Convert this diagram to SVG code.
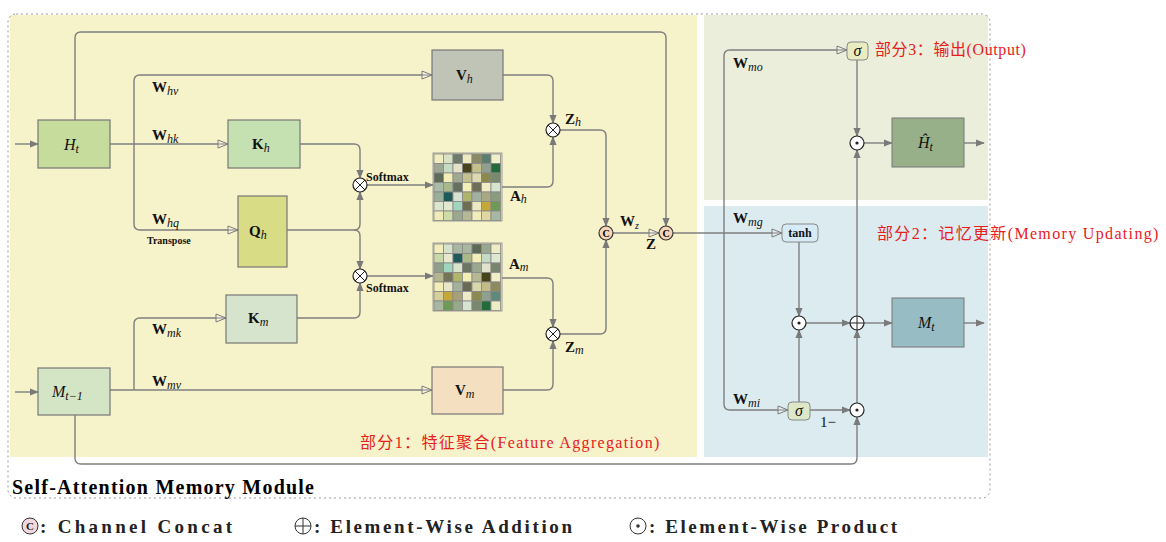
<svg xmlns="http://www.w3.org/2000/svg" width="1166" height="542" viewBox="0 0 1166 542">
<defs>
<marker id="a" viewBox="0 0 10 10" refX="9" refY="5" markerWidth="9" markerHeight="9" orient="auto" markerUnits="userSpaceOnUse"><path d="M0,1 L10,5 L0,9 z" fill="#7a7a7a"/></marker>
<marker id="o" viewBox="0 0 12 10" refX="11" refY="5" markerWidth="12" markerHeight="10" orient="auto" markerUnits="userSpaceOnUse"><path d="M1,1 L11,5 L1,9 z" fill="#fff" fill-opacity="0.3" stroke="#7a7a7a" stroke-width="1"/></marker>
<style>
.l{fill:none;stroke:#7f7f7f;stroke-width:1.4}
.b{stroke:#777;stroke-width:1.2}
.t{font-family:"Liberation Serif",serif;font-size:16px;fill:#111}
.w{font-family:"Liberation Serif",serif;font-size:15px;font-weight:bold;fill:#111}
.s{font-family:"Liberation Serif",serif;font-size:12px;font-style:italic;font-weight:normal}
.r{font-family:"Liberation Serif","Noto Sans CJK SC",serif;font-size:16px;fill:#e8201c;letter-spacing:0.6px}
.op{fill:#fff;stroke:#222;stroke-width:1.2}
</style>
</defs>
<rect x="10" y="15" width="687" height="442" fill="#f6f2c9"/>
<rect x="704" y="15" width="284" height="185" fill="#eaeedb"/>
<rect x="704" y="206" width="284" height="251" fill="#dbebf0"/>
<rect x="8" y="14" width="982" height="484" rx="8" fill="none" stroke="#999" stroke-dasharray="2,3"/>
<g id="connectors">
<path class="l" d="M15,144 H38" marker-end="url(#a)"/>
<path class="l" d="M15,392 H38" marker-end="url(#a)"/>
<path class="l" d="M75,120 V38 Q75,32 81,32 H660 Q666,32 666,38 V226" marker-end="url(#a)"/>
<path class="l" d="M75,415 V458 Q75,464 81,464 H851 Q857,464 857,458 V417" marker-end="url(#a)"/>
<path class="l" d="M110,144 H228" marker-end="url(#o)"/>
<path class="l" d="M134,144 V81 Q134,75 140,75 H432" marker-end="url(#o)"/>
<path class="l" d="M134,144 V224 Q134,230 140,230 H238" marker-end="url(#o)"/>
<path class="l" d="M110,390 H432" marker-end="url(#o)"/>
<path class="l" d="M134,390 V324 Q134,318 140,318 H226" marker-end="url(#o)"/>
<path class="l" d="M300,144 H354 Q360,144 360,150 V178" marker-end="url(#a)"/>
<path class="l" d="M287,230 H354 Q360,230 360,224 V192" marker-end="url(#a)"/>
<path class="l" d="M354,230 Q360,230 360,236 V269" marker-end="url(#a)"/>
<path class="l" d="M297,318 H354 Q360,318 360,312 V283" marker-end="url(#a)"/>
<path class="l" d="M367,185 H433" marker-end="url(#a)"/>
<path class="l" d="M367,276 H433" marker-end="url(#a)"/>
<path class="l" d="M503,75 H547 Q553,75 553,81 V123" marker-end="url(#a)"/>
<path class="l" d="M502,187 H547 Q553,187 553,181 V137" marker-end="url(#a)"/>
<path class="l" d="M502,278 H547 Q553,278 553,284 V327" marker-end="url(#a)"/>
<path class="l" d="M503,390 H547 Q553,390 553,384 V341" marker-end="url(#a)"/>
<path class="l" d="M560,130 H600 Q606,130 606,136 V226" marker-end="url(#a)"/>
<path class="l" d="M560,334 H600 Q606,334 606,328 V240" marker-end="url(#a)"/>
<path class="l" d="M613,233 H659" marker-end="url(#o)"/>
<path class="l" d="M673,233 H724"/>
<path class="l" d="M724,233 V56 Q724,50 730,50 H847" marker-end="url(#o)"/>
<path class="l" d="M724,233 H782" marker-end="url(#o)"/>
<path class="l" d="M724,233 V404 Q724,410 730,410 H788" marker-end="url(#o)"/>
<path class="l" d="M857,60 V136" marker-end="url(#a)"/>
<path class="l" d="M864,143 H892" marker-end="url(#a)"/>
<path class="l" d="M964,143 H984" marker-end="url(#a)"/>
<path class="l" d="M799,242 V316" marker-end="url(#a)"/>
<path class="l" d="M806,323 H850" marker-end="url(#a)"/>
<path class="l" d="M864,323 H892" marker-end="url(#a)"/>
<path class="l" d="M964,323 H984" marker-end="url(#a)"/>
<path class="l" d="M799,402 V330" marker-end="url(#a)"/>
<path class="l" d="M810,410 H850" marker-end="url(#a)"/>
<path class="l" d="M857,403 V330" marker-end="url(#a)"/>
<path class="l" d="M857,316 V150" marker-end="url(#a)"/>
</g>
<g id="labels">
<text class="w" x="152" y="92">W<tspan class="s" dy="3">hv</tspan></text>
<text class="w" x="152" y="140">W<tspan class="s" dy="3">hk</tspan></text>
<text class="w" x="152" y="224">W<tspan class="s" dy="3">hq</tspan></text>
<text class="w" x="147" y="244" style="font-size:10px">Transpose</text>
<text class="w" x="152" y="334">W<tspan class="s" dy="3">mk</tspan></text>
<text class="w" x="152" y="386">W<tspan class="s" dy="3">mv</tspan></text>
<text class="w" x="366" y="181" style="font-size:12px">Softmax</text>
<text class="w" x="366" y="292" style="font-size:12px">Softmax</text>
<text class="w" x="510" y="201">A<tspan class="s" dy="2">h</tspan></text>
<text class="w" x="509" y="269">A<tspan class="s" dy="2">m</tspan></text>
<text class="w" x="565" y="124">Z<tspan class="s" dy="2">h</tspan></text>
<text class="w" x="565" y="352">Z<tspan class="s" dy="2">m</tspan></text>
<text class="w" x="620" y="226">W<tspan class="s" dy="3" style="font-size:10px">z</tspan></text>
<text class="w" x="646" y="249">Z</text>
<text class="w" x="733" y="68">W<tspan class="s" dy="3">mo</tspan></text>
<text class="w" x="733" y="223">W<tspan class="s" dy="3">mg</tspan></text>
<text class="w" x="733" y="404">W<tspan class="s" dy="3">mi</tspan></text>
<text class="w" x="820" y="427" style="font-weight:normal">1−</text>
<text class="r" x="875" y="55">部分3：输出(Output)</text>
<text class="r" x="877" y="239" textLength="282">部分2：记忆更新(Memory Updating)</text>
<text class="r" x="360" y="448" textLength="300">部分1：特征聚合(Feature Aggregation)</text>
<text x="12" y="494" textLength="302" style="font-family:'Liberation Serif',serif;font-size:20px;font-weight:bold">Self-Attention Memory Module</text>
</g>
<g id="Ht"><rect class="b" x="38" y="120" width="72" height="48" fill="#c6dc9c"/><text class="t" x="64" y="150" font-style="italic">H<tspan class="s" dy="3">t</tspan></text></g>
<g id="Mt1"><rect class="b" x="38" y="368" width="72" height="47" fill="#d4e5c5"/><text class="t" x="52" y="397" font-style="italic">M<tspan class="s" dy="3">t−1</tspan></text></g>
<g id="Vh"><rect class="b" x="432" y="50" width="71" height="50" fill="#c0c4b6"/><text class="w" x="456" y="80">V<tspan class="s" dy="3">h</tspan></text></g>
<g id="Kh"><rect class="b" x="228" y="120" width="72" height="48" fill="#c6e1b1"/><text class="w" x="252" y="149">K<tspan class="s" dy="3">h</tspan></text></g>
<g id="Qh"><rect class="b" x="238" y="196" width="49" height="71" fill="#d7dc85"/><text class="w" x="249" y="236">Q<tspan class="s" dy="3">h</tspan></text></g>
<g id="Km"><rect class="b" x="226" y="295" width="71" height="48" fill="#d6e3cd"/><text class="w" x="248" y="323">K<tspan class="s" dy="3">m</tspan></text></g>
<g id="Vm"><rect class="b" x="432" y="367" width="71" height="47" fill="#f5dfc1"/><text class="w" x="455" y="395">V<tspan class="s" dy="3">m</tspan></text></g>
<g id="Ah" stroke="#888" stroke-width="0.8">
<rect x="433" y="153" width="69" height="68" fill="#ede9c2"/>
<g transform="translate(434,154)">
<rect x="0" y="0" width="9.5" height="9.5" fill="#f1edc0"/><rect x="9.5" y="0" width="9.5" height="9.5" fill="#d8e2c5"/><rect x="19" y="0" width="9.5" height="9.5" fill="#6f7b6a"/><rect x="28.5" y="0" width="9.5" height="9.5" fill="#eeeac0"/><rect x="38" y="0" width="9.5" height="9.5" fill="#8a8a66"/><rect x="47.5" y="0" width="9.5" height="9.5" fill="#5d7d6e"/><rect x="57" y="0" width="9.5" height="9.5" fill="#eef0cc"/>
<rect x="0" y="9.5" width="9.5" height="9.5" fill="#9ea794"/><rect x="9.5" y="9.5" width="9.5" height="9.5" fill="#c6dcc2"/><rect x="19" y="9.5" width="9.5" height="9.5" fill="#e4e2c8"/><rect x="28.5" y="9.5" width="9.5" height="9.5" fill="#47431a"/><rect x="38" y="9.5" width="9.5" height="9.5" fill="#c5bf8c"/><rect x="47.5" y="9.5" width="9.5" height="9.5" fill="#8fa08e"/><rect x="57" y="9.5" width="9.5" height="9.5" fill="#236b3a"/>
<rect x="0" y="19" width="9.5" height="9.5" fill="#5e6a5a"/><rect x="9.5" y="19" width="9.5" height="9.5" fill="#f3eeb4"/><rect x="19" y="19" width="9.5" height="9.5" fill="#9fa98f"/><rect x="28.5" y="19" width="9.5" height="9.5" fill="#c2c18f"/><rect x="38" y="19" width="9.5" height="9.5" fill="#dcd8b0"/><rect x="47.5" y="19" width="9.5" height="9.5" fill="#8a8a4e"/><rect x="57" y="19" width="9.5" height="9.5" fill="#788a6c"/>
<rect x="0" y="28.5" width="9.5" height="9.5" fill="#a9bba7"/><rect x="9.5" y="28.5" width="9.5" height="9.5" fill="#a7b98a"/><rect x="19" y="28.5" width="9.5" height="9.5" fill="#66705f"/><rect x="28.5" y="28.5" width="9.5" height="9.5" fill="#f4efb8"/><rect x="38" y="28.5" width="9.5" height="9.5" fill="#6f6e58"/><rect x="47.5" y="28.5" width="9.5" height="9.5" fill="#f0ecc4"/><rect x="57" y="28.5" width="9.5" height="9.5" fill="#d5e3cf"/>
<rect x="0" y="38" width="9.5" height="9.5" fill="#9bae98"/><rect x="9.5" y="38" width="9.5" height="9.5" fill="#1e5a58"/><rect x="19" y="38" width="9.5" height="9.5" fill="#d4e2cf"/><rect x="28.5" y="38" width="9.5" height="9.5" fill="#b0b46a"/><rect x="38" y="38" width="9.5" height="9.5" fill="#a2b0a0"/><rect x="47.5" y="38" width="9.5" height="9.5" fill="#a8a884"/><rect x="57" y="38" width="9.5" height="9.5" fill="#8a9c7e"/>
<rect x="0" y="47.5" width="9.5" height="9.5" fill="#dbe6cf"/><rect x="9.5" y="47.5" width="9.5" height="9.5" fill="#e3e8d0"/><rect x="19" y="47.5" width="9.5" height="9.5" fill="#9fd4bd"/><rect x="28.5" y="47.5" width="9.5" height="9.5" fill="#6e6e52"/><rect x="38" y="47.5" width="9.5" height="9.5" fill="#ebe8c2"/><rect x="47.5" y="47.5" width="9.5" height="9.5" fill="#c4a93a"/><rect x="57" y="47.5" width="9.5" height="9.5" fill="#6e9a55"/>
<rect x="0" y="57" width="9.5" height="9.5" fill="#f0ecb8"/><rect x="9.5" y="57" width="9.5" height="9.5" fill="#d0dca8"/><rect x="19" y="57" width="9.5" height="9.5" fill="#9aa890"/><rect x="28.5" y="57" width="9.5" height="9.5" fill="#b4b896"/><rect x="38" y="57" width="9.5" height="9.5" fill="#f0ecbc"/><rect x="47.5" y="57" width="9.5" height="9.5" fill="#e0d6a0"/><rect x="57" y="57" width="9.5" height="9.5" fill="#a6b8a4"/>
</g></g>
<g id="Am" stroke="#888" stroke-width="0.8">
<rect x="433" y="243" width="69" height="68" fill="#ede9c2"/>
<g transform="translate(434,244)">
<rect x="0" y="0" width="9.5" height="9.5" fill="#f2eebc"/><rect x="9.5" y="0" width="9.5" height="9.5" fill="#d6e2cc"/><rect x="19" y="0" width="9.5" height="9.5" fill="#a8b6a2"/><rect x="28.5" y="0" width="9.5" height="9.5" fill="#a8b6a2"/><rect x="38" y="0" width="9.5" height="9.5" fill="#5e6a58"/><rect x="47.5" y="0" width="9.5" height="9.5" fill="#9aa890"/><rect x="57" y="0" width="9.5" height="9.5" fill="#eeecc4"/>
<rect x="0" y="9.5" width="9.5" height="9.5" fill="#c8d8a8"/><rect x="9.5" y="9.5" width="9.5" height="9.5" fill="#e6e8d0"/><rect x="19" y="9.5" width="9.5" height="9.5" fill="#1e5a58"/><rect x="28.5" y="9.5" width="9.5" height="9.5" fill="#a9ba88"/><rect x="38" y="9.5" width="9.5" height="9.5" fill="#f3eeb8"/><rect x="47.5" y="9.5" width="9.5" height="9.5" fill="#c4dcc6"/><rect x="57" y="9.5" width="9.5" height="9.5" fill="#dce8d0"/>
<rect x="0" y="19" width="9.5" height="9.5" fill="#8ea08c"/><rect x="9.5" y="19" width="9.5" height="9.5" fill="#9fd4bd"/><rect x="19" y="19" width="9.5" height="9.5" fill="#d8e4cc"/><rect x="28.5" y="19" width="9.5" height="9.5" fill="#6a7664"/><rect x="38" y="19" width="9.5" height="9.5" fill="#9aa890"/><rect x="47.5" y="19" width="9.5" height="9.5" fill="#e0e2cc"/><rect x="57" y="19" width="9.5" height="9.5" fill="#788470"/>
<rect x="0" y="28.5" width="9.5" height="9.5" fill="#b2b58e"/><rect x="9.5" y="28.5" width="9.5" height="9.5" fill="#747456"/><rect x="19" y="28.5" width="9.5" height="9.5" fill="#b2b66a"/><rect x="28.5" y="28.5" width="9.5" height="9.5" fill="#f3eeb4"/><rect x="38" y="28.5" width="9.5" height="9.5" fill="#b6b894"/><rect x="47.5" y="28.5" width="9.5" height="9.5" fill="#47431a"/><rect x="57" y="28.5" width="9.5" height="9.5" fill="#f0eec4"/>
<rect x="0" y="38" width="9.5" height="9.5" fill="#f3eeb8"/><rect x="9.5" y="38" width="9.5" height="9.5" fill="#e8e6c8"/><rect x="19" y="38" width="9.5" height="9.5" fill="#a4b29c"/><rect x="28.5" y="38" width="9.5" height="9.5" fill="#6a6a54"/><rect x="38" y="38" width="9.5" height="9.5" fill="#d8d6ac"/><rect x="47.5" y="38" width="9.5" height="9.5" fill="#c4bc88"/><rect x="57" y="38" width="9.5" height="9.5" fill="#8e8a60"/>
<rect x="0" y="47.5" width="9.5" height="9.5" fill="#d8d09a"/><rect x="9.5" y="47.5" width="9.5" height="9.5" fill="#c4a93a"/><rect x="19" y="47.5" width="9.5" height="9.5" fill="#a8a07a"/><rect x="28.5" y="47.5" width="9.5" height="9.5" fill="#eeecc8"/><rect x="38" y="47.5" width="9.5" height="9.5" fill="#8a8a50"/><rect x="47.5" y="47.5" width="9.5" height="9.5" fill="#8ea090"/><rect x="57" y="47.5" width="9.5" height="9.5" fill="#5e8a7c"/>
<rect x="0" y="57" width="9.5" height="9.5" fill="#a8b6a2"/><rect x="9.5" y="57" width="9.5" height="9.5" fill="#6e9a55"/><rect x="19" y="57" width="9.5" height="9.5" fill="#98a88a"/><rect x="28.5" y="57" width="9.5" height="9.5" fill="#d6e4d2"/><rect x="38" y="57" width="9.5" height="9.5" fill="#78886c"/><rect x="47.5" y="57" width="9.5" height="9.5" fill="#236b3a"/><rect x="57" y="57" width="9.5" height="9.5" fill="#eeecc4"/>
</g></g>
<g id="mul1"><circle class="op" cx="360" cy="185" r="7"/><path d="M355,180 L365,190 M365,180 L355,190" stroke="#222" stroke-width="1"/></g>
<g id="mul2"><circle class="op" cx="360" cy="276" r="7"/><path d="M355,271 L365,281 M365,271 L355,281" stroke="#222" stroke-width="1"/></g>
<g id="mul3"><circle class="op" cx="553" cy="130" r="7"/><path d="M548,125 L558,135 M558,125 L548,135" stroke="#222" stroke-width="1"/></g>
<g id="mul4"><circle class="op" cx="553" cy="334" r="7"/><path d="M548,329 L558,339 M558,329 L548,339" stroke="#222" stroke-width="1"/></g>
<g id="c1"><circle cx="606" cy="233" r="7" fill="#f5d5b8" stroke="#333" stroke-width="1.2"/><text x="606" y="237" text-anchor="middle" style="font-family:'Liberation Serif',serif;font-size:10px;font-weight:bold">C</text></g>
<g id="c2"><circle cx="666" cy="233" r="7" fill="#f5d5b8" stroke="#333" stroke-width="1.2"/><text x="666" y="237" text-anchor="middle" style="font-family:'Liberation Serif',serif;font-size:10px;font-weight:bold">C</text></g>
<g id="sigTop"><rect x="847" y="42" width="21" height="18" rx="4" fill="#e8ecc0" stroke="#888"/><text class="t" x="857.5" y="56" text-anchor="middle" font-style="italic">σ</text></g>
<g id="dotTop"><circle class="op" cx="857" cy="143" r="7"/><circle cx="857" cy="143" r="1.6" fill="#222"/></g>
<g id="Hhat"><rect x="892" y="118" width="72" height="49" fill="#98b08a" stroke="#777"/><text class="t" x="918" y="148" font-style="italic">Ĥ<tspan class="s" dy="3">t</tspan></text></g>
<g id="tanh"><rect x="782" y="224" width="36" height="18" rx="4" fill="#d7ebf6" stroke="#888"/><text class="w" x="800" y="237" text-anchor="middle" style="font-size:12px">tanh</text></g>
<g id="dotMid"><circle class="op" cx="799" cy="323" r="7"/><circle cx="799" cy="323" r="1.6" fill="#222"/></g>
<g id="plus"><circle class="op" cx="857" cy="323" r="7"/><path d="M850,323 H864 M857,316 V330" stroke="#222" stroke-width="1"/></g>
<g id="Mt"><rect x="892" y="298" width="72" height="49" fill="#97bcc4" stroke="#777"/><text class="t" x="918" y="328" font-style="italic">M<tspan class="s" dy="3">t</tspan></text></g>
<g id="sigBot"><rect x="788" y="402" width="22" height="18" rx="4" fill="#dde8c8" stroke="#888"/><text class="t" x="799" y="416" text-anchor="middle" font-style="italic">σ</text></g>
<g id="dotBot"><circle class="op" cx="857" cy="410" r="7"/><circle cx="857" cy="410" r="1.6" fill="#222"/></g>
<g id="legend" style="font-family:'Liberation Serif','Noto Sans CJK SC',serif;font-size:19px;font-weight:bold;fill:#222">
<circle cx="30" cy="526" r="8" fill="#f0d8e0" stroke="#333"/><text x="30" y="530" text-anchor="middle" style="font-size:11px">C</text>
<text x="40" y="533" textLength="192">: Channel Concat</text>
<circle cx="303" cy="526" r="8" fill="none" stroke="#333"/><path d="M295,526 H311 M303,518 V534" stroke="#333"/>
<text x="314" y="533" textLength="258">: Element-Wise Addition</text>
<circle cx="638" cy="526" r="8" fill="none" stroke="#333"/><circle cx="638" cy="526" r="1.8" fill="#333"/>
<text x="649" y="533" textLength="248">: Element-Wise Product</text>
</g>
</svg>
